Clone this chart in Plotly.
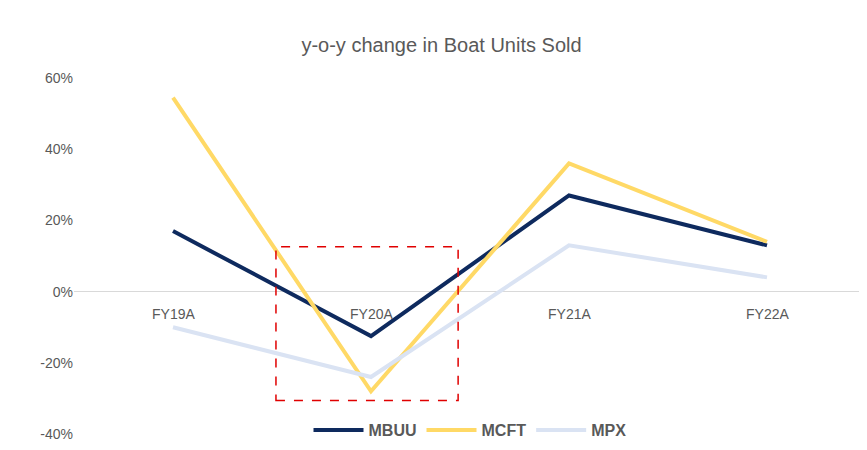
import plotly.graph_objects as go

categories = ["FY19A", "FY20A", "FY21A", "FY22A"]
mbuu = [17, -12.5, 27, 13]
mcft = [54.5, -28, 36, 14]
mpx = [-10, -24, 13, 4]
ytick_vals = [-40, -20, 0, 20, 40, 60]
ytick_text = ["-40%", "-20%", "0%", "20%", "40%", "60%"]

fig = go.Figure()
for name, vals, col in [("MBUU", mbuu, "#0E2A5E"), ("MCFT", mcft, "#FFD966"), ("MPX", mpx, "#DAE3F3")]:
    fig.add_trace(go.Scatter(x=list(range(len(categories))), y=vals, name="<b>" + name + "</b>",
                             mode="lines", line=dict(color=col, width=4)))

for i, c in enumerate(categories):
    fig.add_annotation(x=i, y=0, text=c, showarrow=False, yshift=-22,
                       font=dict(size=14, color="#595959"))

fig.add_shape(type="rect", xref="x", yref="y", x0=0.52, x1=1.44, y0=-30.6, y1=12.6,
              line=dict(color="#E00000", width=1.5, dash="dash"))

fig.update_layout(
    width=867, height=450, paper_bgcolor="white", plot_bgcolor="white",
    margin=dict(l=66, r=9, t=70, b=24, autoexpand=False),
    title=dict(text="y-o-y change in Boat Units Sold", x=0.5, xanchor="center",
               y=0.918, yanchor="middle", automargin=False,
               font=dict(family="Liberation Sans, Arial", size=20, color="#595959")),
    font=dict(family="Liberation Sans, Arial", color="#595959"),
    xaxis=dict(range=[-0.5, 3.5], showticklabels=False, showgrid=False, zeroline=False, automargin=False),
    yaxis=dict(range=[-40, 60], tickvals=ytick_vals, ticktext=ytick_text, showgrid=False, zeroline=True,
               automargin=False, zerolinecolor="#D9D9D9", zerolinewidth=1,
               tickfont=dict(size=14, color="#595959")),
    legend=dict(orientation="h", x=0.5, xanchor="center", y=0.011, yanchor="middle",
                font=dict(size=16, color="#595959", family="Liberation Sans, Arial"),
                itemwidth=50, bgcolor="rgba(0,0,0,0)"),
)
fig.write_html("out.html")
